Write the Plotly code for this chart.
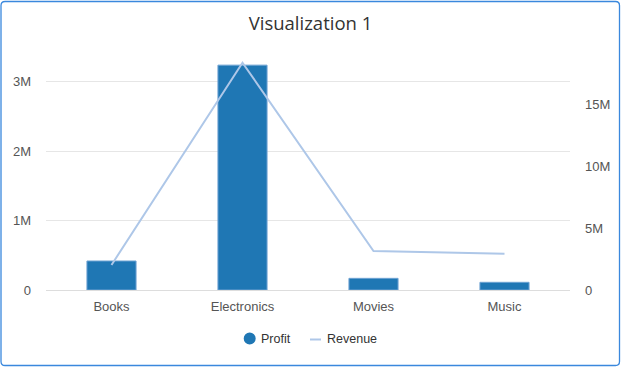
import plotly.graph_objects as go

categories = ["Books", "Electronics", "Movies", "Music"]
profit = [418000, 3240000, 168000, 111000]
revenue = [2030000, 18420000, 3160000, 2940000]
left_ticks = [0, 1000000, 2000000, 3000000]
left_labels = ["0", "1M", "2M", "3M"]
right_ticks = [0, 5000000, 10000000, 15000000]
right_labels = ["0", "5M", "10M", "15M"]

W, H = 621, 368
L, R, T, B = 46, 51, 60, 78
pw, ph = W - L - R, H - T - B

def px(x):
    return (x - L) / pw

def py(y):
    return (H - B - y) / ph

fig = go.Figure()
fig.add_trace(go.Bar(x=categories, y=profit, name="Profit", marker_color="#1f77b4",
                     marker_line=dict(color="#6fa3d3", width=1),
                     width=0.375, showlegend=False, yaxis="y"))
fig.add_trace(go.Scatter(x=categories, y=revenue, name="Revenue", mode="lines",
                         line=dict(color="#aec7e8", width=2), yaxis="y2", showlegend=False))

# rounded border
x0, x1, y0, y1, r = 1, 619.5, 1.5, 365.5, 4
path = (f"M {px(x0+r)},{py(y0)} L {px(x1-r)},{py(y0)} Q {px(x1)},{py(y0)} {px(x1)},{py(y0+r)} "
        f"L {px(x1)},{py(y1-r)} Q {px(x1)},{py(y1)} {px(x1-r)},{py(y1)} "
        f"L {px(x0+r)},{py(y1)} Q {px(x0)},{py(y1)} {px(x0)},{py(y1-r)} "
        f"L {px(x0)},{py(y0+r)} Q {px(x0)},{py(y0)} {px(x0+r)},{py(y0)} Z")

cx, cy, cr = 249.7, 338.5, 6
shapes = [
    dict(type="path", path=path, xref="paper", yref="paper",
         line=dict(color="#3a88dd", width=1.3), layer="above"),
    dict(type="circle", xref="paper", yref="paper",
         x0=px(cx - cr), x1=px(cx + cr), y0=py(cy + cr), y1=py(cy - cr),
         fillcolor="#1f77b4", line=dict(color="#1f77b4", width=0)),
    dict(type="line", xref="paper", yref="paper",
         x0=px(310), x1=px(321), y0=py(339.5), y1=py(339.5),
         line=dict(color="#aec7e8", width=2)),
]
annotations = [
    dict(text="Profit", x=px(258.5), y=py(339), xref="paper", yref="paper",
         xanchor="left", yanchor="middle", showarrow=False,
         font=dict(family="Liberation Sans, Arial", size=12.5, color="#333333")),
    dict(text="Revenue", x=px(324.5), y=py(339), xref="paper", yref="paper",
         xanchor="left", yanchor="middle", showarrow=False,
         font=dict(family="Liberation Sans, Arial", size=12.5, color="#333333")),
]

fig.update_layout(
    width=W, height=H,
    margin=dict(l=L, r=R, t=T, b=B),
    paper_bgcolor="white", plot_bgcolor="white",
    showlegend=False,
    title=dict(text="Visualization 1", x=0.5, xanchor="center", y=1 - 23.5 / H, yanchor="middle",
               font=dict(family="Open Sans", size=18.5, color="#333333")),
    font=dict(family="Liberation Sans, Arial", size=13, color="#555555"),
    xaxis=dict(showgrid=False, showline=False, ticks="", ticklabelstandoff=7),
    yaxis=dict(range=[0, 3314000], tickvals=left_ticks, ticktext=left_labels,
               showgrid=True, gridcolor="#e6e6e6",
               zeroline=True, zerolinecolor="#dddddd", zerolinewidth=1, ticklabelstandoff=14),
    yaxis2=dict(range=[0, 18640000], overlaying="y", side="right",
                tickvals=right_ticks, ticktext=right_labels,
                showgrid=False, zeroline=False, ticklabelstandoff=14),
    shapes=shapes,
    annotations=annotations,
)

fig.write_html("out.html", config={"displayModeBar": False},
               post_script="document.body.style.margin='0';document.body.style.overflow='hidden';")
